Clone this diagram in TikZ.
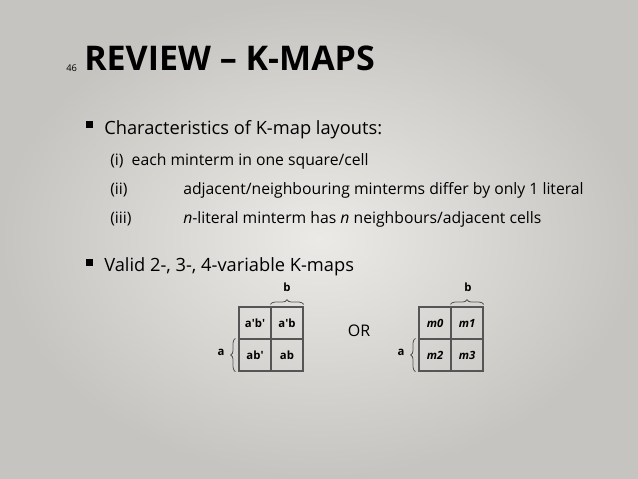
\documentclass[tikz,border=0pt]{standalone}
\usepackage{fontspec}
\setmainfont{Open Sans}
\usetikzlibrary{decorations.pathreplacing,calc}
\definecolor{bgin}{HTML}{ECEAE7}
\definecolor{bgout}{HTML}{C6C4C0}
\definecolor{gridc}{HTML}{555555}
\tikzset{
  cell/.style={draw=gridc,line width=0.9pt,minimum width=24pt,minimum height=24pt,inner sep=0pt,font=\fontsize{8.5}{9}\selectfont\bfseries},
  brc/.style={decorate,decoration={brace,amplitude=3.5pt},draw=gridc,line width=0.6pt},
  lbl/.style={font=\fontsize{8.5}{9}\selectfont\bfseries},
  body/.style={anchor=base west,inner sep=0pt,font=\fontsize{11.8}{13}\selectfont},
  bul/.style={anchor=base west,inner sep=0pt,font=\fontsize{13.7}{15}\selectfont}
}
\begin{document}
\begin{tikzpicture}[x=0.75pt,y=-0.75pt]
\shade[inner color=bgin,outer color=bgout] (0,0) rectangle (638,478);
\useasboundingbox (0,0) rectangle (638,478);
\node[anchor=base west,inner sep=0pt,font=\fontsize{7}{8}\selectfont] (num) at (66,71) {46};
\node[anchor=base west,inner sep=0pt,font=\fontsize{25.5}{30}\selectfont\bfseries] (title) at (84,70) {REVIEW – K-MAPS};
\fill (86,121) rectangle (93,128);
\node[bul] (b1) at (104,134) {Characteristics of K-map layouts:};
\node[body] (i1) at (110,165) {(i)\ \ each minterm in one square/cell};
\node[body] (i2) at (110,194) {(ii)};
\node[body] (t2) at (183,194) {adjacent/neighbouring minterms differ by only 1 literal};
\node[body] (i3) at (110,223) {(iii)};
\node[body] (t3) at (183,223) {\textit{n}-literal minterm has \textit{n} neighbours/adjacent cells};
\fill (86,259) rectangle (93,266);
\node[bul] (b2) at (104,271) {Valid 2-, 3-, 4-variable K-maps};
% left map
\node[cell] (c00) at (255,323) {a\textquotesingle b\textquotesingle};
\node[cell] (c01) at (287,323) {a\textquotesingle b};
\node[cell] (c10) at (255,355) {ab\textquotesingle};
\node[cell] (c11) at (287,355) {ab};
\draw[brc] ($(c01.north west)+(0,-2)$) -- ($(c01.north east)+(0,-2)$);
\node[lbl] (lb) at (287,287) {b};
\draw[brc] ($(c10.south west)+(-3,0)$) -- ($(c10.north west)+(-3,0)$);
\node[lbl] (la) at (221,352) {a};
\node[font=\fontsize{12}{13}\selectfont] (or) at (359,331) {OR};
% right map
\node[cell] (d00) at (435,323) {\itshape m0};
\node[cell] (d01) at (467,323) {\itshape m1};
\node[cell] (d10) at (435,355) {\itshape m2};
\node[cell] (d11) at (467,355) {\itshape m3};
\draw[brc] ($(d01.north west)+(0,-2)$) -- ($(d01.north east)+(0,-2)$);
\node[lbl] (rb) at (468,287) {b};
\draw[brc] ($(d10.south west)+(-3,0)$) -- ($(d10.north west)+(-3,0)$);
\node[lbl] (ra) at (401,352) {a};
\end{tikzpicture}
\end{document}
